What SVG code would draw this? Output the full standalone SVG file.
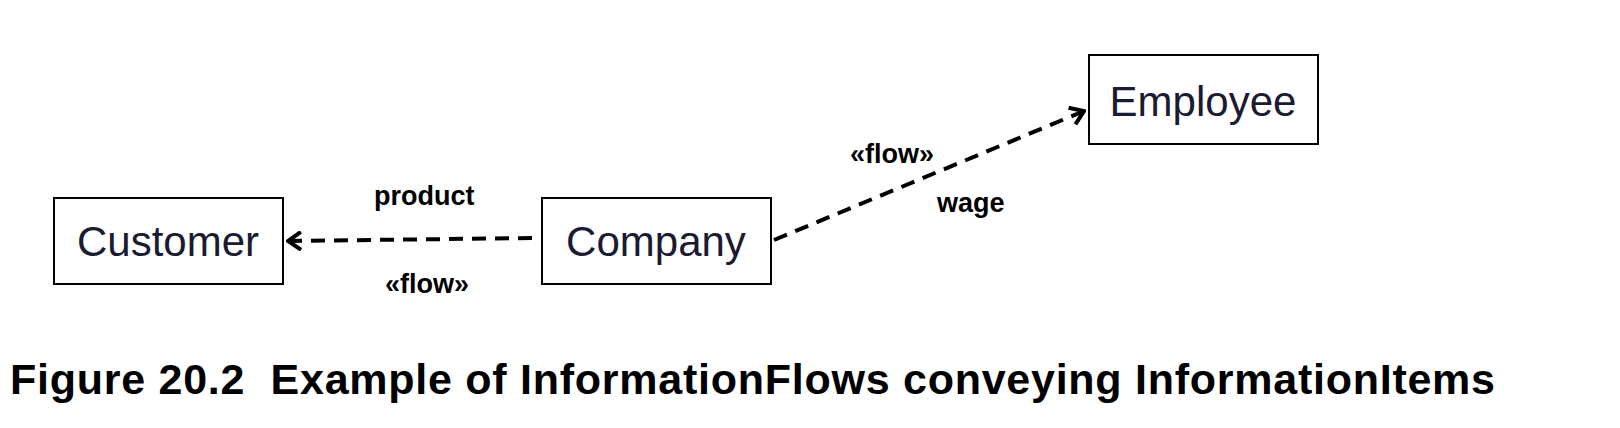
<svg xmlns="http://www.w3.org/2000/svg" width="1620" height="428" viewBox="0 0 1620 428">
<style>
.box{fill:#fff;stroke:#000;stroke-width:2}
.nt{font-family:"Liberation Sans",Arial,sans-serif;font-size:42px;fill:#1a1a33;text-anchor:middle}
.lb{font-family:"Liberation Sans",Arial,sans-serif;font-size:27px;font-weight:bold;fill:#000}
.c{fill:none;stroke:#000;stroke-width:4;stroke-dasharray:14,9}
.cap{font-family:"Liberation Sans",Arial,sans-serif;font-size:43px;font-weight:bold;fill:#000}
</style>
<defs>
<marker id="a" markerWidth="16" markerHeight="20" refX="14" refY="10" orient="auto" markerUnits="userSpaceOnUse" viewBox="0 0 16 20">
<path d="M1,1 L14,10 L1,19" fill="none" stroke="#000" stroke-width="4"/>
</marker>
</defs>
<rect width="1620" height="428" fill="#fff"/>
<g id="customer"><rect class="box" x="54" y="198" width="229" height="86"/><text class="nt" x="168" y="256">Customer</text></g>
<g id="company"><rect class="box" x="542" y="198" width="229" height="86"/><text class="nt" x="656" y="256">Company</text></g>
<g id="employee"><rect class="box" x="1089" y="55" width="229" height="89"/><text class="nt" x="1203" y="116">Employee</text></g>
<g id="connectors">
<path class="c" d="M532,238 L288,241" marker-end="url(#a)"/>
<path class="c" d="M774,240 L1084,111" marker-end="url(#a)"/>
<text class="lb" x="374" y="205">product</text>
<text class="lb" x="385" y="293">«flow»</text>
<text class="lb" x="850" y="163">«flow»</text>
<text class="lb" x="937" y="212">wage</text>
</g>
<text class="cap" x="10" y="394" textLength="1485" xml:space="preserve">Figure 20.2  Example of InformationFlows conveying InformationItems</text>
</svg>
